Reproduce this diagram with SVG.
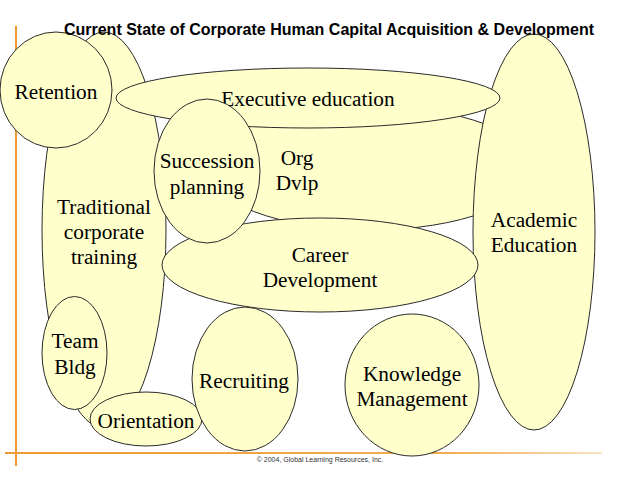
<svg xmlns="http://www.w3.org/2000/svg" width="638" height="478" viewBox="0 0 638 478">
<defs>
<linearGradient id="hfade" x1="0" y1="0" x2="1" y2="0">
<stop offset="0" stop-color="#EE9A2E"/>
<stop offset="0.75" stop-color="#F2AE55"/>
<stop offset="1" stop-color="#FBE3C0"/>
</linearGradient>
<style>
.n{fill:#FFFFCC;stroke:#2a2a2a;stroke-width:1}
.t{font-family:"Liberation Serif","Times New Roman",serif;font-size:21.3px;fill:#000;text-anchor:middle}
</style>
</defs>
<rect width="638" height="478" fill="#fff"/>
<line x1="16" y1="26" x2="16" y2="466" stroke="#EE9A2E" stroke-width="2"/>
<rect x="5" y="452" width="597" height="2" fill="url(#hfade)"/>
<g id="traditional"><ellipse class="n" cx="104" cy="230" rx="62" ry="198"/><text class="t" x="104" y="214">Traditional</text><text class="t" x="104" y="239">corporate</text><text class="t" x="104" y="264">training</text></g>
<g id="orgdvlp"><ellipse class="n" cx="370" cy="168" rx="163" ry="62"/><text class="t" x="297" y="165">Org</text><text class="t" x="297" y="190">Dvlp</text></g>
<g id="academic"><ellipse class="n" cx="534" cy="232" rx="61" ry="198"/><text class="t" x="534" y="227">Academic</text><text class="t" x="534" y="252">Education</text></g>
<g id="career"><ellipse class="n" cx="320" cy="265" rx="158" ry="47"/><text class="t" x="320" y="262">Career</text><text class="t" x="320" y="287">Development</text></g>
<g id="executive"><ellipse class="n" cx="308" cy="98" rx="192" ry="30"/><text class="t" x="308" y="106">Executive education</text></g>
<g id="retention"><ellipse class="n" cx="56" cy="90" rx="56" ry="58"/><text class="t" x="56" y="99">Retention</text></g>
<g id="succession"><ellipse class="n" cx="207" cy="171" rx="53" ry="72"/><text class="t" x="207" y="168">Succession</text><text class="t" x="207" y="194">planning</text></g>
<g id="teambldg"><ellipse class="n" cx="74.5" cy="353" rx="32.5" ry="56.5"/><text class="t" x="75" y="348">Team</text><text class="t" x="75" y="374">Bldg</text></g>
<g id="orientation"><ellipse class="n" cx="146" cy="419" rx="56" ry="27"/><text class="t" x="146" y="428">Orientation</text></g>
<g id="recruiting"><ellipse class="n" cx="245" cy="379" rx="53" ry="72"/><text class="t" x="244" y="388">Recruiting</text></g>
<g id="knowledge"><ellipse class="n" cx="412" cy="385" rx="67" ry="71"/><text class="t" x="412" y="381">Knowledge</text><text class="t" x="412" y="406">Management</text></g>
<g id="connectors"></g>
<text x="329" y="35" font-family="'Liberation Sans',Arial,sans-serif" font-weight="bold" font-size="16" text-anchor="middle" fill="#000">Current State of Corporate Human Capital Acquisition &amp; Development</text>
<text x="320" y="462" font-family="'Liberation Sans',Arial,sans-serif" font-size="7" text-anchor="middle" fill="#333">© 2004, Global Learning Resources, Inc.</text>
</svg>
